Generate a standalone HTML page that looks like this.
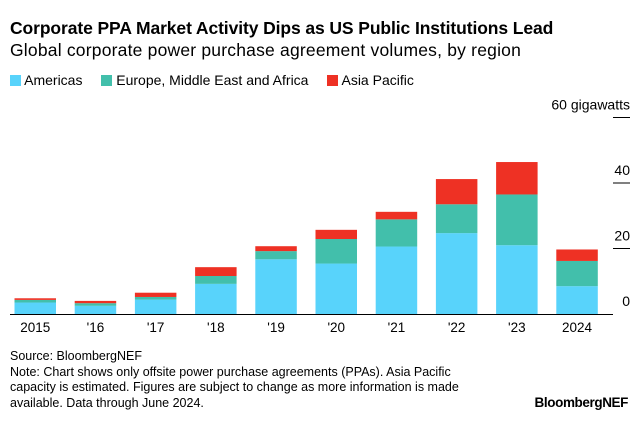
<!DOCTYPE html>
<html><head><meta charset="utf-8"><style>
body{margin:0;background:#fff;font-family:"Liberation Sans",sans-serif;color:#000}
#wrap{position:relative;width:640px;height:423px;overflow:hidden}
.t{position:absolute;white-space:nowrap}
</style></head><body>
<div id="wrap">
<div class="t" style="left:10px;top:18px;font-size:17.5px;font-weight:bold;letter-spacing:-0.1px">Corporate PPA Market Activity Dips as US Public Institutions Lead</div>
<div class="t" style="left:10px;top:40px;font-size:17.5px;letter-spacing:0.2px">Global corporate power purchase agreement volumes, by region</div>
<div class="t" style="left:10px;top:72px;font-size:14px">
<span><span style="display:inline-block;width:11px;height:11px;background:#58d3fb;vertical-align:-1px"></span> Americas</span>
<span style="margin-left:15px"><span style="display:inline-block;width:11px;height:11px;background:#42bfab;vertical-align:-1px"></span> Europe, Middle East and Africa</span>
<span style="margin-left:15px"><span style="display:inline-block;width:11px;height:11px;background:#ee3124;vertical-align:-1px"></span> Asia Pacific</span>
</div>
<svg id="chart" width="640" height="423" style="position:absolute;left:0;top:0"></svg>
<div class="t" style="left:10px;top:349px;font-size:12.5px;line-height:15.5px">Source: BloombergNEF<br>Note: Chart shows only offsite power purchase agreements (PPAs). Asia Pacific<br>capacity is estimated. Figures are subject to change as more information is made<br>available. Data through June 2024.</div>
<div class="t" style="right:12px;top:395px;font-size:13.5px;font-weight:bold;letter-spacing:-0.4px">BloombergNEF</div>
</div>
<script>
const categories=["2015","'16","'17","'18","'19","'20","'21","'22","'23","2024"];
const americas=[3.5,2.5,4.4,9.2,16.7,15.4,20.6,24.7,21.0,8.5];
const emea=[0.8,0.8,0.8,2.4,2.5,7.5,8.3,8.8,15.5,7.7];
const apac=[0.5,0.7,1.3,2.7,1.5,2.8,2.3,7.7,9.9,3.5];
const yTicks=[0,20,40,60];
const yTickLabels=["0","20","40","60 gigawatts"];
const NS="http://www.w3.org/2000/svg";
const svg=document.getElementById('chart');
const base=314,pxPer=65.5/20;
function y(v){return base-v*pxPer;}
function x(i){return 14.5+i*60.2;}
const bw=41.5;
function mk(tag,attrs){const e=document.createElementNS(NS,tag);for(const k in attrs)e.setAttribute(k,attrs[k]);svg.appendChild(e);return e;}
yTicks.forEach((t,i)=>{
  if(t>0){const l=mk('line',{x1:613,x2:630,y1:y(t),y2:y(t),stroke:'#000','stroke-width':1});
  
  }
  const tx=mk('text',{x:630,y:y(t)-8,'text-anchor':'end','font-size':14,'font-family':'Liberation Sans, sans-serif'});
  tx.textContent=yTickLabels[i];
  
  
});
const series=[[americas,'#58d3fb','americas'],[emea,'#42bfab','emea'],[apac,'#ee3124','apac']];
categories.forEach((c,i)=>{
  let acc=0;
  series.forEach(([arr,col,nm])=>{
    const r=mk('rect',{x:x(i),y:y(acc+arr[i]),width:bw,height:arr[i]*pxPer,fill:col});
    
    
    acc+=arr[i];
  });
  const tx=mk('text',{x:x(i)+bw/2,y:base+18,'text-anchor':'middle','font-size':13.5,'font-family':'Liberation Sans, sans-serif'});
  tx.textContent=c;
  
  
});
const ax=mk('line',{x1:10,x2:613,y1:base+0.5,y2:base+0.5,stroke:'#000','stroke-width':1});


</script>
</body></html>
